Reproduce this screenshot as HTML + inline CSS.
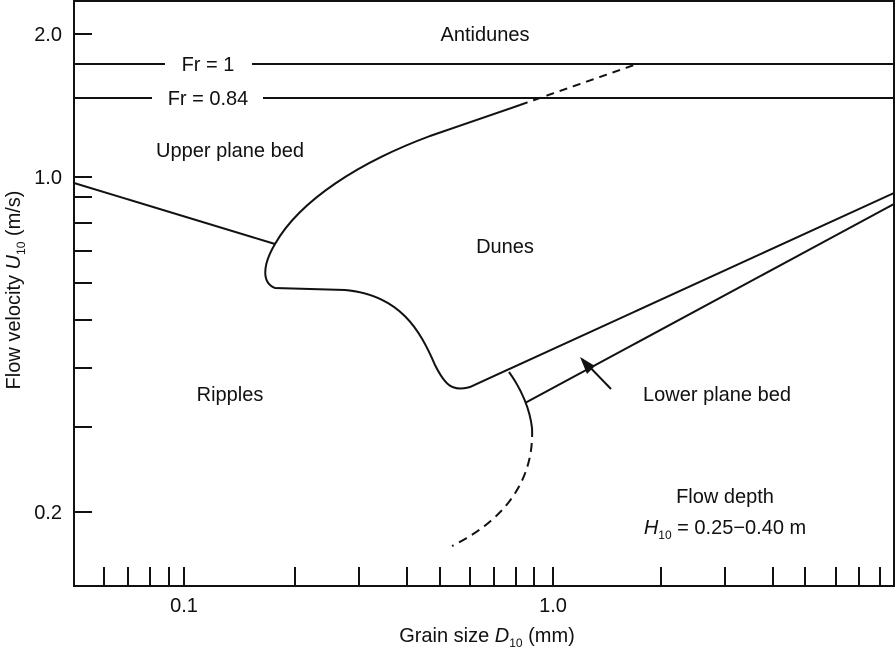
<!DOCTYPE html>
<html><head><meta charset="utf-8"><style>
html,body{margin:0;padding:0;background:#fff;}
svg{display:block;}
text{font-family:"Liberation Sans",sans-serif;fill:#111;}
</style></head><body>
<svg width="896" height="653" viewBox="0 0 896 653" xmlns="http://www.w3.org/2000/svg">
<g stroke="#111" stroke-width="2" fill="none">
<rect x="74" y="1" width="820" height="585"/>
<!-- y ticks -->
<path d="M74 34H92M74 177H92M74 197H92M74 223H92M74 251H92M74 283H92M74 320H92M74 368H92M74 427H92M74 512H92"/>
<!-- x ticks -->
<path d="M104 567V586M128 567V586M150 567V586M169 567V586M184 567V586M295 567V586M359 567V586M407 567V586M440 567V586M470 567V586M494 567V586M516 567V586M534 567V586M553 567V586M661 567V586M725 567V586M773 567V586M805 567V586M836 567V586M859 567V586M880 567V586"/>
<!-- Fr lines -->
<path d="M74 64H165M252 64H894M74 98H152M263 98H894"/>
<!-- upper plane bed boundary -->
<path d="M74 183L275 244"/>
<!-- dune curve -->
<path d="M520 105L430 136C360 162 300 200 275 244C262 266 262 283 275 288L345 290C400 295 420 330 435 365C445 385 452 392 470 387L894 193"/>
<path d="M520 105L637 64" stroke-dasharray="8,6"/>
<path d="M525 403L894 204"/>
<path d="M509 372C522 390 530 410 532 428"/>
<path d="M532 428C534 470 515 515 452 546" stroke-dasharray="9,6"/>
<!-- arrow -->
<path d="M611 389L582 359"/>
</g>
<path d="M580 357L587 374L595 366Z" fill="#111"/>
<g font-size="20">
<text x="485" y="41" text-anchor="middle">Antidunes</text>
<text x="208" y="71" text-anchor="middle">Fr = 1</text>
<text x="208" y="105" text-anchor="middle">Fr = 0.84</text>
<text x="230" y="157" text-anchor="middle">Upper plane bed</text>
<text x="505" y="253" text-anchor="middle">Dunes</text>
<text x="230" y="401" text-anchor="middle">Ripples</text>
<text x="717" y="401" text-anchor="middle">Lower plane bed</text>
<text x="725" y="503" text-anchor="middle">Flow depth</text>
<text x="725" y="534" text-anchor="middle"><tspan font-style="italic">H</tspan><tspan font-size="12" dy="5">10</tspan><tspan dy="-5"> = 0.25−0.40 m</tspan></text>
<text x="62" y="41" text-anchor="end">2.0</text>
<text x="62" y="184" text-anchor="end">1.0</text>
<text x="62" y="519" text-anchor="end">0.2</text>
<text x="184" y="612" text-anchor="middle">0.1</text>
<text x="553" y="612" text-anchor="middle">1.0</text>
<text x="487" y="642" text-anchor="middle">Grain size <tspan font-style="italic">D</tspan><tspan font-size="12" dy="5">10</tspan><tspan dy="-5"> (mm)</tspan></text>
<text transform="translate(20 290) rotate(-90)" text-anchor="middle">Flow velocity <tspan font-style="italic">U</tspan><tspan font-size="12" dy="5">10</tspan><tspan dy="-5">  (m/s)</tspan></text>
</g>
</svg>
</body></html>
